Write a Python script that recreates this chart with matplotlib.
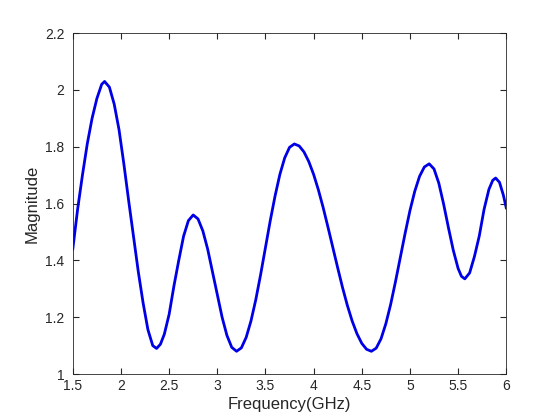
import matplotlib
matplotlib.use("Agg")
import matplotlib.pyplot as plt

freq = [1.5, 1.55, 1.6, 1.65, 1.7, 1.75, 1.8, 1.83, 1.88, 1.93, 1.98, 2.03, 2.08, 2.13, 2.18, 2.23, 2.28, 2.33, 2.37,
        2.41, 2.45, 2.5, 2.55, 2.6, 2.65, 2.7, 2.75, 2.8, 2.85, 2.9, 2.95, 3.0, 3.05, 3.1, 3.15, 3.2,
        3.25, 3.3, 3.35, 3.4, 3.45, 3.5, 3.55, 3.6, 3.65, 3.7, 3.75, 3.8,
        3.85, 3.9, 3.95, 4.0, 4.05, 4.1, 4.15, 4.2, 4.25, 4.3, 4.35, 4.4, 4.45, 4.5, 4.55, 4.6,
        4.65, 4.7, 4.75, 4.8, 4.85, 4.9, 4.95, 5.0, 5.05, 5.1, 5.15, 5.2,
        5.25, 5.3, 5.35, 5.4, 5.45, 5.5, 5.535, 5.57,
        5.62, 5.67, 5.72, 5.77, 5.82, 5.86, 5.89, 5.93, 5.97, 6.0]
mag = [1.44, 1.58, 1.70, 1.81, 1.90, 1.97, 2.02, 2.03, 2.01, 1.95, 1.86, 1.74, 1.61, 1.485, 1.36, 1.25, 1.156, 1.10, 1.09,
       1.105, 1.14, 1.21, 1.31, 1.40, 1.485, 1.54, 1.56, 1.546, 1.504, 1.44, 1.36, 1.28, 1.20, 1.136, 1.094, 1.08,
       1.092, 1.129, 1.187, 1.262, 1.35, 1.445, 1.54, 1.627, 1.703, 1.761, 1.798, 1.81,
       1.803, 1.782, 1.748, 1.703, 1.648, 1.585, 1.516, 1.445, 1.374, 1.305, 1.242, 1.187, 1.142, 1.108, 1.087, 1.08,
       1.091, 1.124, 1.177, 1.245, 1.325, 1.41, 1.495, 1.575, 1.643, 1.696, 1.729, 1.74,
       1.722, 1.672, 1.598, 1.515, 1.436, 1.372, 1.344, 1.335,
       1.356, 1.414, 1.486, 1.58, 1.65, 1.682, 1.69, 1.675, 1.63, 1.585]

plt.rcParams['font.family'] = ['Liberation Sans', 'DejaVu Sans']
fig = plt.figure(figsize=(5.6, 4.2), dpi=100)
ax = fig.add_axes([0.130, 0.1095, 0.774, 0.8115])
ax.plot(freq, mag, color=(0, 0, 0.9), lw=2)
ax.set_xlim(1.5, 6)
ax.set_ylim(1, 2.2)
ax.set_xticks([1.5, 2, 2.5, 3, 3.5, 4, 4.5, 5, 5.5, 6])
ax.set_xticklabels(['1.5', '2', '2.5', '3', '3.5', '4', '4.5', '5', '5.5', '6'])
ax.set_yticks([1, 1.2, 1.4, 1.6, 1.8, 2, 2.2])
ax.set_yticklabels(['1', '1.2', '1.4', '1.6', '1.8', '2', '2.2'])
ax.tick_params(direction='in', top=True, right=True, labelsize=10, colors=(0.15, 0.15, 0.15), length=4)
ax.tick_params(axis='y', pad=6)
for s in ax.spines.values():
    s.set_color((0.15, 0.15, 0.15))
    s.set_linewidth(0.6)
ax.set_xlabel('Frequency(GHz)', fontsize=12, color=(0.15, 0.15, 0.15), labelpad=3)
ax.set_ylabel('Magnitude', fontsize=12, color=(0.15, 0.15, 0.15))
fig.savefig('out.png', dpi=100)
